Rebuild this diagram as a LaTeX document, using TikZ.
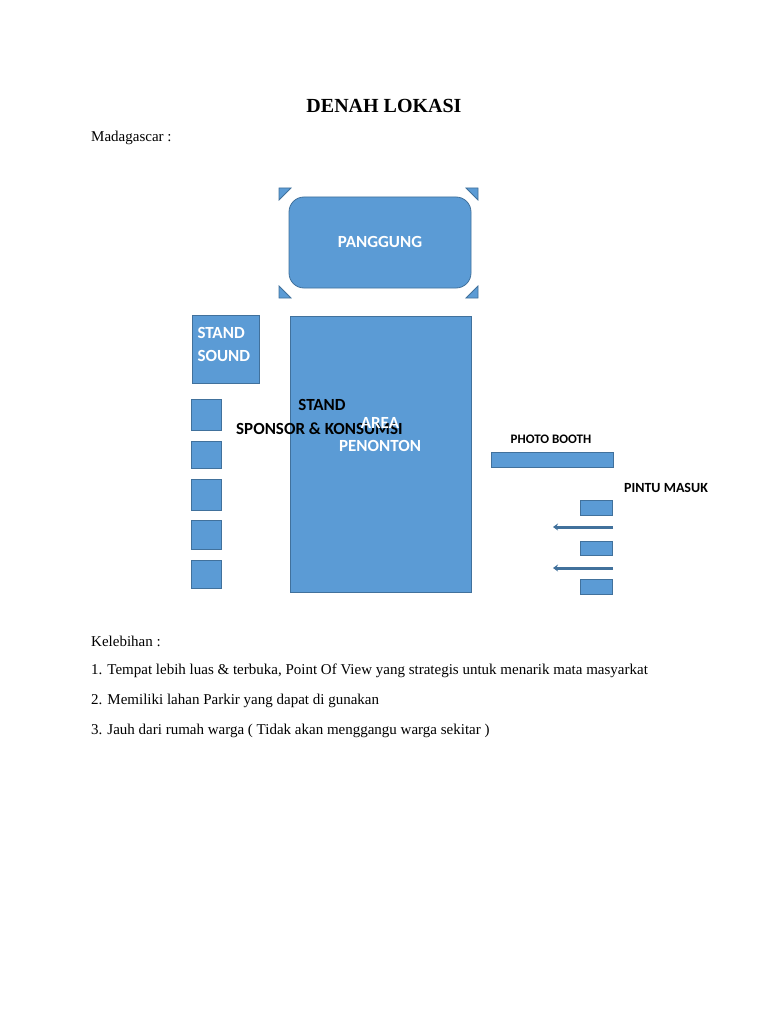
\documentclass[tikz,border=0pt]{standalone}
\usepackage{fontspec}
\setmainfont{Liberation Serif}
\newfontfamily\carl{Carlito}
\usetikzlibrary{arrows.meta}
\definecolor{bfill}{HTML}{5B9BD5}
\definecolor{bline}{HTML}{41719C}
\begin{document}
\begin{tikzpicture}[x=1pt,y=-1pt,
  blk/.style={fill=bfill,draw=bline,line width=0.8pt},
  wlab/.style={text=white,font=\carl\bfseries\fontsize{17}{24}\selectfont,align=center},
  blab/.style={text=black,font=\carl\bfseries\fontsize{17}{24}\selectfont},
  body/.style={anchor=west,font=\fontsize{15}{17}\selectfont,inner sep=0pt}]
\useasboundingbox (0,0) rectangle (768,1024);
\node (title) at (384,106) {\fontsize{20}{22}\selectfont\bfseries DENAH LOKASI};
\node[body] (mad) at (91,138) {Madagascar :};
% corner triangles
\fill[blk] (279,188) -- (291,188) -- (279,200) -- cycle;
\fill[blk] (478,188) -- (466,188) -- (478,200) -- cycle;
\fill[blk] (279,298) -- (291,298) -- (279,286) -- cycle;
\fill[blk] (478,298) -- (466,298) -- (478,286) -- cycle;
\draw[blk,rounded corners=15pt] (289,197) rectangle (471,288);
\node[wlab] (pg) at (380,242) {PANGGUNG};
\draw[blk] (290,316) rectangle (471,592);
\draw[blk] (192,315) rectangle (259,383);
\node[wlab,align=left,anchor=north west] (ss) at (194,324) {STAND\\[-0.05em]SOUND};
\foreach \a/\b in {399/430,441/468,479/510,520/549,560/588}
  \draw[blk] (191,\a) rectangle (221,\b);
\node[blab] (st) at (322,405) {STAND};
\node[blab,anchor=west,inner sep=0pt] (sp) at (236,429) {SPONSOR \& KONSUMSI};
\node[wlab,anchor=north] (ap) at (380,414) {AREA\\[-0.05em]PENONTON};
\node[blab,font=\carl\bfseries\fontsize{13}{14}\selectfont] (pb) at (551,439) {PHOTO BOOTH};
\draw[blk] (491,452) rectangle (613,467);
\node[blab,font=\carl\bfseries\fontsize{14}{15}\selectfont] (pm) at (666,488) {PINTU MASUK};
\foreach \a/\b in {500/515,541/555,579/594}
  \draw[blk] (580,\a) rectangle (612,\b);
\coordinate (a1s) at (613,527); \coordinate (a1e) at (553,527);
\coordinate (a2s) at (613,568); \coordinate (a2e) at (553,568);
\draw[bline,line width=3pt,-{Stealth[length=5pt,width=7pt]}] (a1s) -- (a1e);
\draw[bline,line width=3pt,-{Stealth[length=5pt,width=7pt]}] (a2s) -- (a2e);
\node[body] (k) at (91,641) {Kelebihan :};
\node[body] (l1) at (91,671) {1. Tempat lebih luas \& terbuka, Point Of View yang strategis untuk menarik mata masyarkat};
\node[body] (l2) at (91,701) {2. Memiliki lahan Parkir yang dapat di gunakan};
\node[body] (l3) at (91,731) {3. Jauh dari rumah warga ( Tidak akan menggangu warga sekitar )};
\end{tikzpicture}
\end{document}
